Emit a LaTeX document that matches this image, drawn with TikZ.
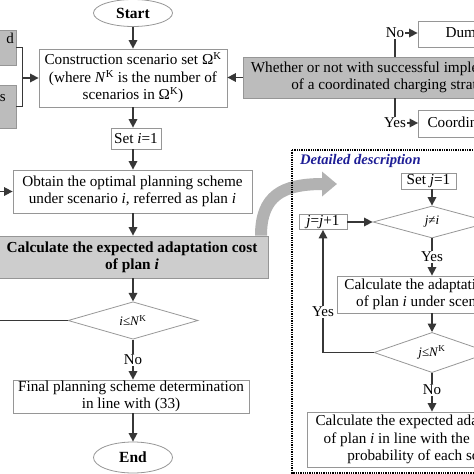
\documentclass[tikz,border=0pt]{standalone}
\usepackage{fontspec}
\setmainfont{Liberation Serif}
\usetikzlibrary{arrows.meta,shapes.geometric,calc}
\definecolor{linec}{RGB}{55,55,55}
\definecolor{boxline}{RGB}{150,150,150}
\definecolor{grayfill}{RGB}{188,188,188}
\definecolor{calcfill}{RGB}{205,205,205}
\definecolor{bandc}{RGB}{178,178,178}
\definecolor{navy}{RGB}{30,30,150}
\tikzset{
 box/.style={draw=boxline, line width=0.8pt, fill=white, align=center, inner sep=0pt, font=\fontsize{15.2}{17.5}\selectfont},
 graybox/.style={box, fill=grayfill},
 dia/.style={diamond, draw=boxline, line width=0.8pt, inner sep=0pt, font=\fontsize{13}{15}\selectfont},
 oval/.style={ellipse, draw=boxline, line width=0.8pt, inner sep=0pt, font=\bfseries\fontsize{15.5}{17}\selectfont},
 arr/.style={draw=linec, line width=1.6pt, -{Triangle[width=8.5pt,length=8.5pt]}},
 ln/.style={draw=linec, line width=1.6pt},
 lab/.style={inner sep=1pt, font=\fontsize{15}{17}\selectfont},
}
\begin{document}
\begin{tikzpicture}[x=1pt,y=-1pt]
\useasboundingbox (0,0) rectangle (474,474);
\clip (0,0) rectangle (474,474);
% main column
\node[oval, minimum width=79pt, minimum height=27pt] (start) at (133,13) {Start};
\node[box, minimum width=188pt, minimum height=58pt] (cons) at (133,78) {Construction scenario set Ω\textsuperscript{K}\\(where \textit{N}\textsuperscript{K} is the number of\\scenarios in Ω\textsuperscript{K})};
\node[box, minimum width=50pt, minimum height=21pt] (seti) at (136,138.5) {Set \textit{i}=1};
\node[box, minimum width=239pt, minimum height=43pt] (obt) at (132.5,191.5) {Obtain the optimal planning scheme\\under scenario \textit{i}, referred as plan \textit{i}};
\node[box, fill=calcfill, minimum width=272pt, minimum height=42pt, font=\bfseries\fontsize{15.3}{17}\selectfont] (calc) at (132,257) {Calculate the expected adaptation cost\\of plan \textit{i}};
\node[dia, minimum width=130pt, minimum height=35pt] (d1) at (133,320.5) {\textit{i}≤\textit{N}\textsuperscript{K}};
\node[lab] (no2) at (133,360) {No};
\node[box, minimum width=236pt, minimum height=33pt] (fin) at (131,396.5) {Final planning scheme determination\\in line with (33)};
\node[oval, minimum width=79pt, minimum height=31pt] (end) at (133,457.5) {End};
% left inputs
\node[graybox, minimum width=60pt, minimum height=35pt] (ga) at (-14,47.5) {};
\node[lab, anchor=base east, inner sep=0pt] (gat) at (14,43) {d};
\node[graybox, minimum width=60pt, minimum height=43pt] (gb) at (-14,106.5) {};
\node[lab, anchor=base east, inner sep=0pt] (gbt) at (6,101) {s};
\draw[ln] (ga.east) -- ++(6,0) |- (gb.east);
\coordinate (br) at (22,78);
\draw[arr] (br) -- (cons.west);
% right top
\node[graybox, minimum width=304pt, minimum height=41pt] (wh) at (395,77.5) {Whether or not with successful implementation\\of a coordinated charging strategy};
\draw[arr] (wh.west) -- (wh.west -| cons.east);
\node[lab] (no1) at (395,33) {No};
\draw[ln] (wh.north) -- (no1.south);
\node[box, minimum width=150pt, minimum height=26pt] (dum) at (493,34) {Dumb charging};
\draw[arr] (no1.east) -- (no1.east -| dum.west);
\node[lab] (yes1) at (395,123) {Yes};
\draw[ln] (wh.south) -- (yes1.north);
\node[box, minimum width=150pt, minimum height=27pt] (coo) at (493.5,123.5) {Coordinated charging};
\draw[arr] (yes1.east) -- (yes1.east -| coo.west);
% main arrows
\draw[arr] (start.south) -- (cons.north);
\draw[arr] (cons.south) -- (cons.south |- seti.north);
\draw[arr] (seti.south -| cons.south) -- (obt.north -| cons.south);
\draw[arr] (obt.south -| cons.south) -- (calc.north -| cons.south);
\draw[arr] (calc.south -| cons.south) -- (d1.north);
\draw[ln] (d1.south) -- (no2.north);
\draw[arr] (no2.south) -- (fin.north -| no2.south);
\draw[arr] (fin.south -| end.north) -- (end.north);
\coordinate (lp) at (-20,320.5);
\draw[arr] (d1.west) -- (lp) |- (obt.west);
% gray band arrow
\coordinate (bs) at (261,236);
\coordinate (be) at (337,184);
\draw[bandc, line width=12pt, -{Triangle[width=24pt,length=15pt]}] (calc.north -| bs) .. controls (261,196) and (282,184) .. (be);
% detailed frame
\draw[densely dotted, line width=1.3pt] (292,150) rectangle (570,473);
\node[anchor=west, font=\bfseries\itshape\fontsize{14.6}{16}\selectfont, text=navy, inner sep=0pt] (dd) at (300,161) {Detailed description};
\node[box, minimum width=55pt, minimum height=16pt] (sj) at (428.5,181) {Set \textit{j}=1};
\node[dia, minimum width=118pt, minimum height=32pt] (d2) at (432,222) {\textit{j}≠\textit{i}};
\node[box, minimum width=48pt, minimum height=15pt] (jj) at (323,222) {\textit{j}=\textit{j}+1};
\draw[arr] (sj.south -| d2.north) -- (d2.north);
\draw[arr] (jj.east) -- (d2.west);
\node[lab] (yes2) at (432,257) {Yes};
\draw[ln] (d2.south) -- (yes2.north);
\node[box, minimum width=190pt, minimum height=37pt] (c2) at (432,294.5) {Calculate the adaptation cost\\of plan \textit{i} under scenario \textit{j}};
\draw[arr] (yes2.south) -- (c2.north);
\node[dia, minimum width=116pt, minimum height=33pt] (d3) at (432,352.5) {\textit{j}≤\textit{N}\textsuperscript{K}};
\draw[arr] (c2.south) -- (d3.north);
\node[lab] (yes3) at (323,312) {Yes};
\draw[ln] (d3.west) -| (yes3.south);
\draw[arr] (yes3.north) -- (jj.south);
\node[lab] (no3) at (432,390) {No};
\draw[ln] (d3.south) -- (no3.north);
\node[box, minimum width=250pt, minimum height=55pt] (c3) at (432,439.5) {Calculate the expected adaptation cost\\of plan \textit{i} in line with the occurrence\\probability of each scenario};
\draw[arr] (no3.south) -- (c3.north);
\end{tikzpicture}
\end{document}
